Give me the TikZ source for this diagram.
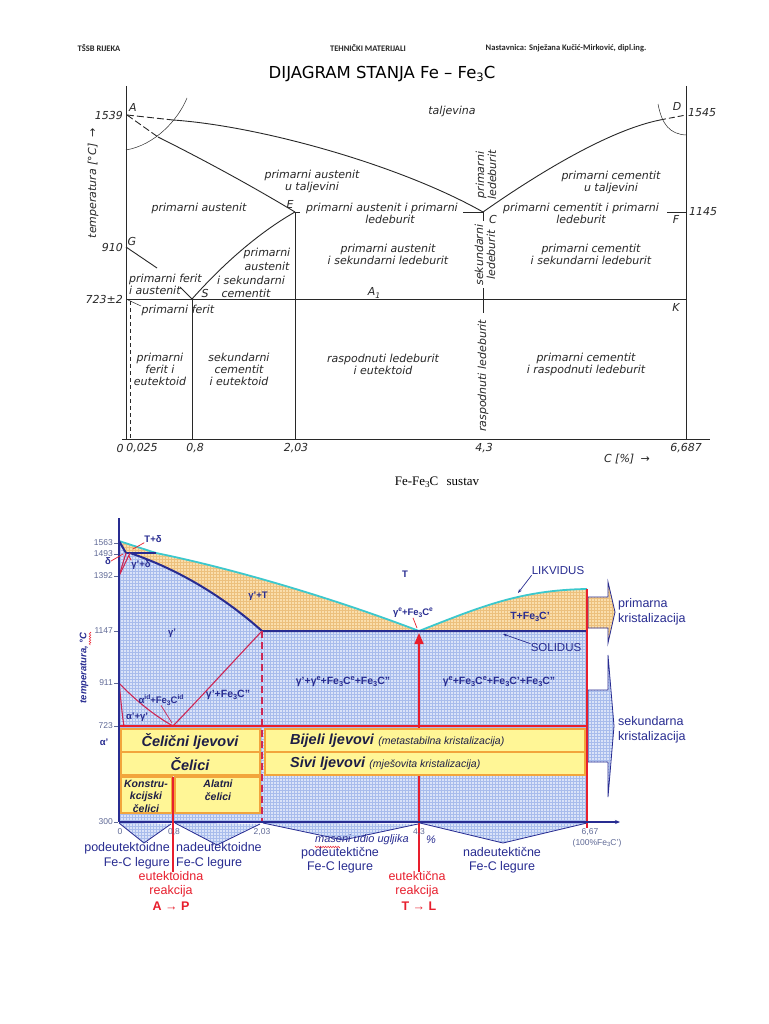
\documentclass[tikz,border=0pt]{standalone}
\usepackage{fontspec}
\setmainfont{Liberation Sans}
\newfontfamily\hdrfont{Carlito}
\newfontfamily\titlefont{DejaVu Sans}
\newfontfamily\techfont{DejaVu Sans Oblique}
\newfontfamily\serfont{Liberation Serif}
\usepackage{graphicx}
\usetikzlibrary{patterns,arrows.meta,decorations.pathmorphing}

\definecolor{navy}{RGB}{40,44,145}
\definecolor{labgray}{RGB}{95,105,150}
\definecolor{liqcyan}{RGB}{60,200,205}
\definecolor{redl}{RGB}{232,30,45}
\definecolor{crim}{RGB}{205,40,85}
\definecolor{orfill}{RGB}{250,222,172}
\definecolor{orgrid}{RGB}{236,192,125}
\definecolor{blfill}{RGB}{218,227,248}
\definecolor{blgrid}{RGB}{168,188,236}
\definecolor{yelfill}{RGB}{255,246,150}
\definecolor{yelbord}{RGB}{242,165,60}
\definecolor{ink}{RGB}{40,40,40}
\definecolor{rowink}{RGB}{30,30,70}

\newcommand{\sbs}[1]{\raisebox{-0.35ex}{\scalebox{0.7}{#1}}}
\newcommand{\sps}[1]{\raisebox{0.75ex}{\scalebox{0.7}{#1}}}
\newcommand{\FeC}{Fe\sbs{3}C}

\begin{document}
\begin{tikzpicture}[x=1pt,y=-1pt,
  hdr/.style={font=\hdrfont\bfseries\fontsize{8.5}{10}\selectfont, text=ink, inner sep=0pt},
  tech/.style={font=\techfont\fontsize{11}{12}\selectfont, text=ink, inner sep=0pt, align=center},
  techline/.style={ink, line width=0.9pt},
  thinline/.style={ink, line width=0.5pt},
  nlbl/.style={font=\bfseries\fontsize{9.5}{10}\selectfont, text=navy, inner sep=0pt},
  nlblw/.style={font=\bfseries\fontsize{10.5}{11}\selectfont, text=navy, inner sep=0pt},
  axl/.style={font=\fontsize{8.5}{9}\selectfont, text=labgray, inner sep=0pt},
  legure/.style={font=\fontsize{12.5}{14.5}\selectfont, text=navy, inner sep=0pt, align=center},
  reak/.style={font=\fontsize{12.5}{14}\selectfont, text=redl, inner sep=0pt, align=center},
  yrow/.style={fill=yelfill, draw=yelbord, line width=1.2pt},
  rowtxt/.style={font=\bfseries\itshape\fontsize{14.5}{16}\selectfont, text=rowink, inner sep=0pt},
  smrow/.style={font=\bfseries\itshape\fontsize{10.5}{12.5}\selectfont, text=rowink, inner sep=0pt, align=center},
  bluearea/.style={preaction={fill=blfill}, pattern=grid, pattern color=blgrid},
  orarea/.style={preaction={fill=orfill}, pattern=grid, pattern color=orgrid},
  navline/.style={navy, line width=2pt},
  crimline/.style={crim, line width=1.1pt},
  bigblue/.style={font=\fontsize{11.5}{13}\selectfont, text=navy, inner sep=0pt}
]
\useasboundingbox (0,0) rectangle (768,1024);
\fill[white] (0,0) rectangle (768,1024);

% ---------------- header ----------------
\node[hdr] (hA) at (99,48) {TŠSB RIJEKA};
\node[hdr] (hB) at (368,48) {TEHNIČKI MATERIJALI};
\node[hdr] (hC) at (566,48) {Nastavnica: Snježana Kučić-Mirković, dipl.ing.};
\node[font=\titlefont\fontsize{16.5}{18}\selectfont, inner sep=0pt] (title) at (382,74) {DIJAGRAM STANJA Fe – Fe\sbs{3}C};

% ---------------- top diagram ----------------
\coordinate (A) at (127,115);
\coordinate (E) at (295,212);
\coordinate (C) at (483,212);
\coordinate (D) at (686,115);
\coordinate (G) at (126,247);
\coordinate (S) at (192,299);

\draw[techline] (126,86) -- (126,439);
\draw[techline] (686,86) -- (686,439);
\draw[techline] (122,439) -- (710,439);

\draw[techline, dash pattern=on 7pt off 3pt] (A) -- (173,120);
\draw[techline] (173,120) .. controls (260,126) and (400,165) .. (C);
\draw[techline] (C) .. controls (540,172) and (610,130) .. (660,120);
\draw[techline, dash pattern=on 6pt off 3pt] (660,120) -- (D);
\draw[techline, dash pattern=on 7pt off 3pt] (A) -- (158,137);
\draw[techline] (158,137) .. controls (210,163) and (255,188) .. (E);
\draw[thinline] (187,98) .. controls (178,120) and (155,145) .. (126,150);
\draw[thinline] (658,104) .. controls (662,125) and (670,134) .. (686,135);

\draw[techline] (E) -- (300,212);
\draw[techline] (463,212) -- (C);
\draw[techline] (667,212) -- (686,212);
\draw[techline] (C) -- (483,221);
\draw[techline] (483,288) -- (483,313);
\draw[techline] (126,299) -- (686,299);
\draw[techline] (G) -- (157,268);
\draw[techline] (180,287) -- (S);
\draw[techline] (S) .. controls (225,262) and (260,232) .. (E);
\draw[techline] (S) -- (192,439);
\draw[techline] (E) -- (295,439);
\draw[thinline, dash pattern=on 4pt off 3pt] (130,301) -- (130,439);
\draw[thinline] (141,306) -- (128,300);

\node[tech] (t1) at (452,111) {taljevina};
\node[tech] (t2) at (312,181) {primarni austenit\\u taljevini};
\node[tech] (t3) at (199,208) {primarni austenit};
\node[tech] (t4) at (382,213) {primarni austenit i primarni\\\hspace*{16pt}ledeburit};
\node[tech] (t5) at (388,254) {primarni austenit\\i sekundarni ledeburit};
\node[tech] (t6a) at (267,253) {primarni};
\node[tech] (t6b) at (267,266) {austenit};
\node[tech] (t6c) at (251,280) {i sekundarni};
\node[tech] (t6d) at (246,293) {cementit};
\node[tech, align=left, anchor=west] (t7) at (129,284) {primarni ferit\\i austenit};
\node[tech] (t8) at (178,310) {primarni ferit};
\node[tech] (t9) at (160,369) {primarni\\ferit i\\eutektoid};
\node[tech] (t10) at (239,369) {sekundarni\\cementit\\i eutektoid};
\node[tech] (t11) at (383,364) {raspodnuti ledeburit\\i eutektoid};
\node[tech] (t12) at (586,364) {primarni cementit\\i raspodnuti ledeburit};
\node[tech] (t13) at (611,182) {primarni cementit\\u taljevini};
\node[tech] (t14) at (581,213) {primarni cementit i primarni\\ledeburit};
\node[tech] (t15) at (591,254) {primarni cementit\\i sekundarni ledeburit};
\node[tech, rotate=90] (t16) at (486,175) {primarni\\ledeburit};
\node[tech, rotate=90] (t17) at (485,255) {sekundarni\\ledeburit};
\node[tech, rotate=90] (t18) at (483,376) {raspodnuti ledeburit};

\node[tech] (lA) at (133,107) {A};
\node[tech] (lE) at (290,204) {E};
\node[tech] (lG) at (132,241) {G};
\node[tech] (lS) at (205,293) {S};
\node[tech] (lC) at (493,219) {C};
\node[tech] (lD) at (677,106) {D};
\node[tech] (lF) at (676,219) {F};
\node[tech] (lK) at (676,307) {K};
\node[tech] (lA1) at (374,293) {A\sbs{1}};
\node[tech, anchor=east] (n1539) at (123,115) {1539};
\node[tech, anchor=east] (n910) at (123,247) {910};
\node[tech, anchor=east] (n723) at (123,299) {723±2};
\node[tech, anchor=west] (n1545) at (688,113) {1545};
\node[tech, anchor=west] (n1145) at (689,212) {1145};
\node[tech] (x0) at (120,448) {0};
\node[tech] (x1) at (142,448) {0,025};
\node[tech] (x2) at (195,448) {0,8};
\node[tech] (x3) at (296,448) {2,03};
\node[tech] (x4) at (484,448) {4,3};
\node[tech] (x5) at (686,448) {6,687};
\node[tech] (xc) at (627,459) {C [\%] \hspace{3pt}→};
\node[tech, rotate=90] (ty) at (93,183) {temperatura [°C] \hspace{3pt}→};
\node[font=\serfont\fontsize{13}{14}\selectfont, inner sep=0pt] (sust) at (437,482) {Fe-Fe\sbs{3}C\hspace{5pt} sustav};

% ---------------- bottom diagram ----------------
\coordinate (bA) at (119,541);
\coordinate (bH) at (126,553);
\coordinate (bJ) at (130,553);
\coordinate (bB) at (156,553);
\coordinate (bN) at (119,576);
\coordinate (bE) at (262,631);
\coordinate (bC) at (419,631);
\coordinate (bF) at (587,631);
\coordinate (bL) at (587,589);
\coordinate (bG) at (119,683);
\coordinate (bS) at (173,726);
\coordinate (bP) at (124,726);

% fills
\path[bluearea] (bA) -- (bH) -- (bJ) .. controls (180,570) and (225,598) .. (bE) -- (bF) -- (587,822) -- (119,822) -- cycle;
\path[orarea] (bA) -- (bB) .. controls (230,568) and (330,597) .. (bC) .. controls (480,607) and (520,590) .. (bL) -- (bF) -- (bE) .. controls (225,598) and (180,570) .. (bJ) -- (bH) -- cycle;
% V shapes under axis
\path[bluearea] (119,823) -- (144,843) -- (171,824) -- cycle;
\path[bluearea] (175,823) -- (217,845) -- (260,824) -- cycle;
\path[bluearea] (263,823) -- (343,840) -- (418,824) -- cycle;
\path[bluearea] (420,823) -- (503,843) -- (587,823) -- cycle;
\draw[navy, line width=0.8pt] (119,823) -- (144,843) -- (171,824);
\draw[navy, line width=0.8pt] (175,823) -- (217,845) -- (260,824);
\draw[navy, line width=0.8pt] (263,823) -- (343,840) -- (418,824);
\draw[navy, line width=0.8pt] (420,823) -- (503,843) -- (587,823);

% right arrows
\path[orarea, draw=navy, line width=0.8pt] (588,597) -- (608,597) -- (608,582) -- (615,612) -- (608,643) -- (608,628) -- (588,628) -- cycle;
\path[bluearea, draw=navy, line width=0.8pt] (588,690) -- (608,690) -- (608,655) -- (614,726) -- (608,797) -- (608,762) -- (588,762) -- cycle;

% phase lines
\draw[liqcyan, line width=1.8pt] (bA) -- (bB) .. controls (230,568) and (330,597) .. (bC) .. controls (480,607) and (520,590) .. (bL);
\draw[navline] (bA) -- (bH);
\draw[navy, line width=1.4pt] (bH) -- (bB);
\draw[navline] (bJ) .. controls (180,570) and (225,598) .. (bE) -- (bF);
\draw[crimline] (bN) -- (bH);
\draw[crimline] (bN) -- (bJ);
\draw[crimline] (bG) .. controls (135,700) and (155,716) .. (bS);
\draw[crimline] (bG) .. controls (121,700) and (122,715) .. (bP);
\draw[crimline] (bS) .. controls (200,698) and (230,665) .. (bE);
\draw[crim, line width=1.5pt, dash pattern=on 7pt off 4pt] (bE) -- (262,822);
\draw[redl, line width=1.5pt, -{Triangle[length=11pt,width=9pt]}] (419,872) -- (419,633);
\draw[redl, line width=1.2pt] (bL) -- (587,828);
\draw[redl, line width=1.8pt] (119,726) -- (587,726);

% axes
\draw[navline] (119,518) -- (119,822);
\draw[navy, line width=1.6pt, -{Stealth[length=5pt,width=4pt]}] (119,822) -- (620,822);
\foreach \yy in {543,554,576,631,683,726,822} {\draw[labgray, line width=0.6pt] (114,\yy) -- (118,\yy);}

% yellow rows
\draw[yrow] (121,729) rectangle (260,752);
\draw[yrow] (121,752) rectangle (260,775);
\draw[yrow] (121,777) rectangle (172,813);
\draw[yrow] (175,777) rectangle (260,813);
\draw[yrow] (265,729) rectangle (585,752);
\draw[yrow] (265,752) rectangle (585,775);
\draw[redl, line width=1.6pt] (173,777) -- (173,872);

\node[rowtxt] (r1) at (190,741) {Čelični ljevovi};
\node[rowtxt] (r2) at (190,764) {Čelici};
\node[smrow] (r3) at (146,796) {Konstru-\\kcijski\\čelici};
\node[smrow] (r4) at (218,790) {Alatni\\čelici};
\node[rowtxt, anchor=west] (r5) at (290,741) {Bijeli ljevovi \textnormal{\itshape\fontsize{10.5}{12}\selectfont (metastabilna kristalizacija)}};
\node[rowtxt, anchor=west] (r6) at (290,764) {Sivi ljevovi \textnormal{\itshape\fontsize{10.5}{12}\selectfont (mješovita kristalizacija)}};

% labels inside diagram
\node[nlbl] (lTd) at (153,539) {T+δ};
\node[nlbl] (ld) at (108,561) {δ};
\node[nlbl] (lgd) at (141,565) {γ'+δ};
\node[nlbl] (lgT) at (258,596) {γ'+T};
\node[nlbl] (lg) at (172,633) {γ'};
\node[font=\bfseries\fontsize{9.5}{10}\selectfont, text=navy, inner sep=0pt] (lT) at (405,574) {T};
\node[bigblue] (likv) at (558,571) {LIKVIDUS};
\node[bigblue] (sol) at (556,648) {SOLIDUS};
\node[nlbl] (lge) at (413,613) {γ\sps{e}+\FeC\sps{e}};
\node[nlblw] (lTF) at (530,617) {T+\FeC'};
\node[nlblw] (lmix1) at (343,682) {γ'+γ\sps{e}+\FeC\sps{e}+\FeC''};
\node[nlblw] (lmix2) at (499,682) {γ\sps{e}+\FeC\sps{e}+\FeC'+\FeC''};
\node[nlbl] (lalid) at (161,700) {α\sps{id}+\FeC\sps{id}};
\node[nlblw] (lgF) at (228,695) {γ'+\FeC''};
\node[nlbl] (lag) at (137,717) {α'+γ'};
\node[nlbl] (lal) at (104,742) {α'};

\draw[redl, line width=0.7pt] (lTd.south west) -- (133,549);
\draw[redl, line width=0.7pt] (ld.east) -- (123,554);
\draw[redl, line width=0.7pt] (lgd.north west) -- (129,556);
\draw[redl, line width=0.7pt] (lge.south) -- (417,628);
\draw[crim, line width=0.7pt] (lalid.south) -- (172,723);
\draw[navy, line width=0.7pt, -{Stealth[length=4pt,width=3pt]}] (likv.south west) -- (518,593);
\draw[navy, line width=0.7pt, -{Stealth[length=4pt,width=3pt]}] (sol.north west) -- (503,634);

% axis labels
\node[axl, anchor=east] (b1563) at (113,543) {1563};
\node[axl, anchor=east] (b1493) at (113,554) {1493};
\node[axl, anchor=east] (b1392) at (113,576) {1392};
\node[axl, anchor=east] (b1147) at (113,631) {1147};
\node[axl, anchor=east] (b911) at (113,683) {911};
\node[axl, anchor=east] (b723) at (113,726) {723};
\node[axl, anchor=east] (b300) at (113,822) {300};
\node[font=\bfseries\itshape\fontsize{9.5}{11}\selectfont, text=navy, inner sep=0pt, rotate=90] (ytb) at (84,668) {temperatura, °C};
\draw[redl, line width=0.5pt, decorate, decoration={zigzag, amplitude=0.8pt, segment length=2.5pt}] (90,632) -- (90,645);

\node[axl] (c0) at (120,832) {0};
\node[axl] (c1) at (174,832) {0,8};
\node[axl] (c2) at (262,832) {2,03};
\node[axl] (c3) at (419,832) {4,3};
\node[axl] (c4) at (590,832) {6,67};
\node[axl] (c5) at (597,843) {(100\%\FeC')};
\node[font=\itshape\fontsize{11}{12}\selectfont, text=navy, inner sep=0pt, anchor=west] (mud) at (315,840) {maseni udio ugljika};
\node[font=\itshape\fontsize{11}{12}\selectfont, text=navy, inner sep=0pt] (pct) at (431,840) {\%};
\draw[redl, line width=0.5pt, decorate, decoration={zigzag, amplitude=0.8pt, segment length=2.5pt}] (315,847) -- (340,847);

\node[legure, anchor=east, align=right] (pod1) at (170,856) {podeutektoidne\\Fe-C legure};
\node[legure, anchor=west, align=left] (nad1) at (176,856) {nadeutektoidne\\Fe-C legure};
\node[legure] (pod2) at (340,860) {podeutektične\\Fe-C legure};
\node[legure] (nad2) at (502,860) {nadeutektične\\Fe-C legure};
\node[reak] (re1) at (171,884) {eutektoidna\\reakcija};
\node[reak, font=\bfseries\fontsize{12.5}{14}\selectfont] (re1b) at (171,906) {A → P};
\node[reak] (re2) at (417,884) {eutektična\\reakcija};
\node[reak, font=\bfseries\fontsize{12.5}{14}\selectfont] (re2b) at (419,906) {T → L};

\node[font=\fontsize{12.5}{14.5}\selectfont, text=navy, inner sep=0pt, anchor=west, align=left] (pk) at (618,612) {primarna\\kristalizacija};
\node[font=\fontsize{12.5}{14.5}\selectfont, text=navy, inner sep=0pt, anchor=west, align=left] (sk) at (618,730) {sekundarna\\kristalizacija};
\end{tikzpicture}
\end{document}
